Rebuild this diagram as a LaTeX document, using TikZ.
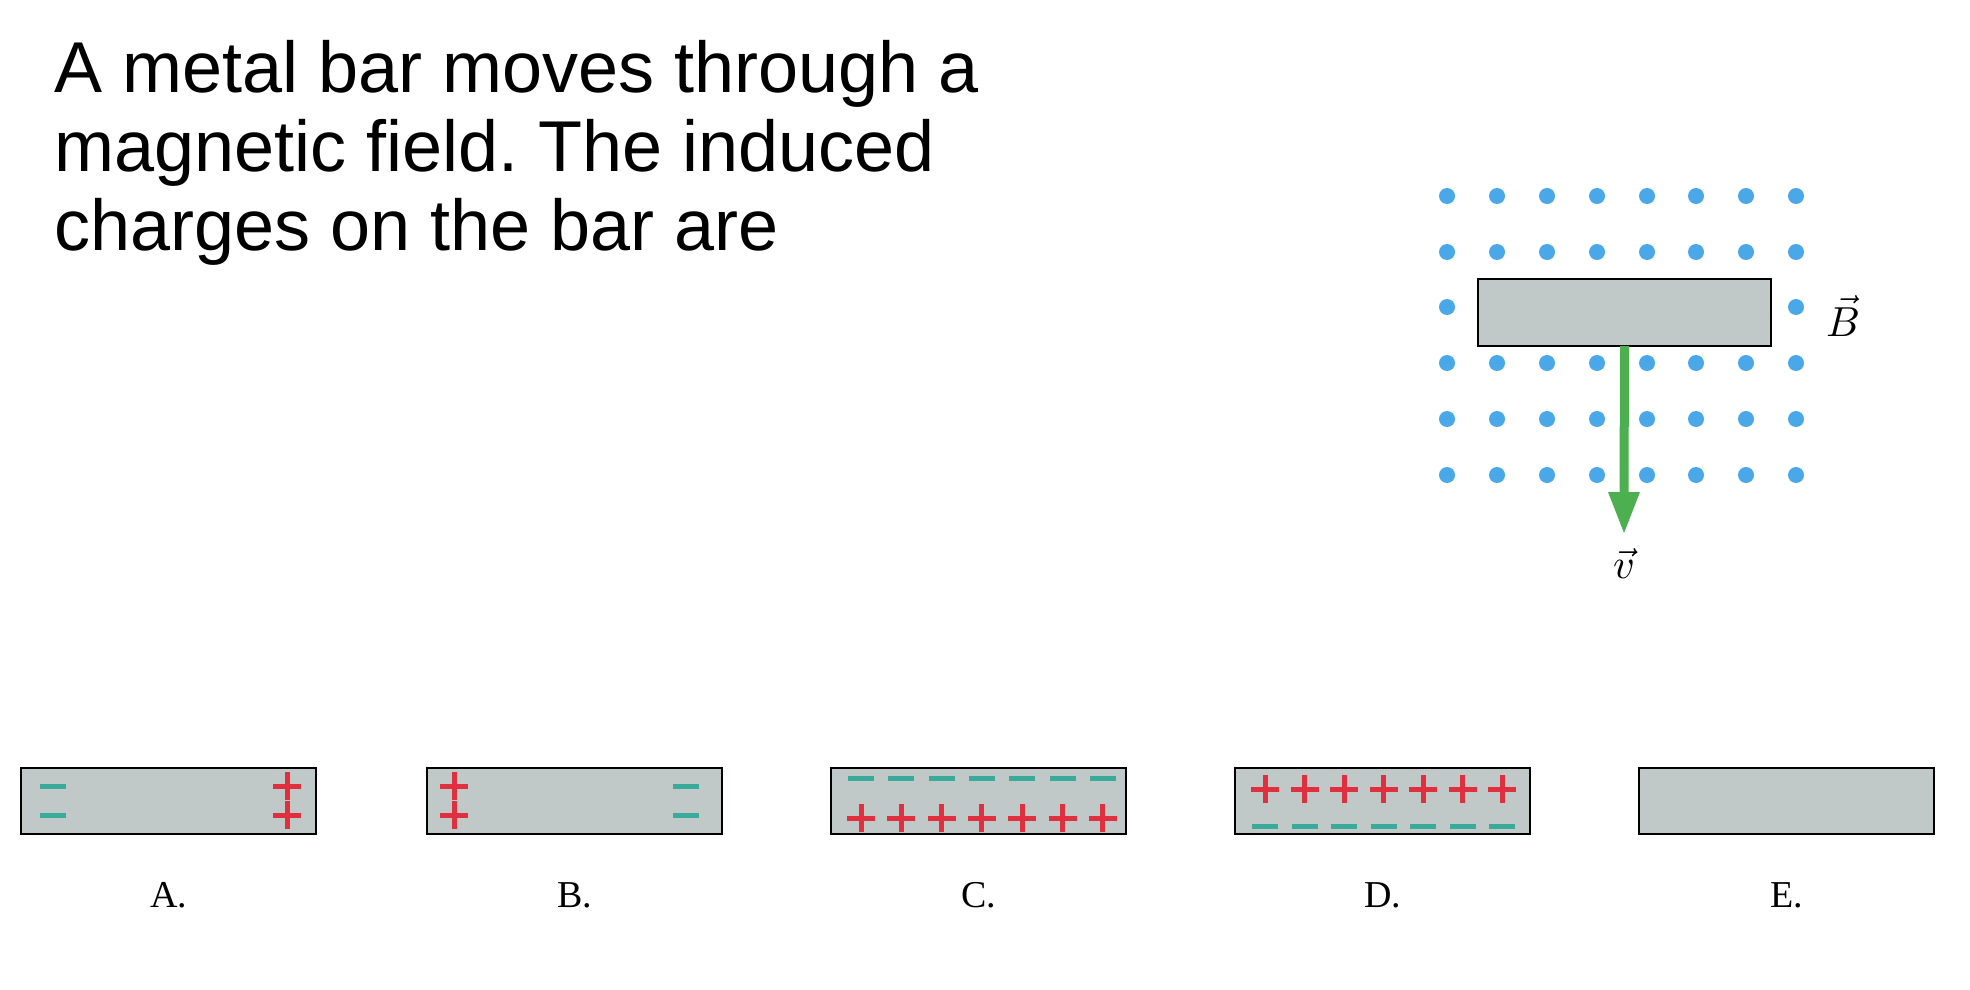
\documentclass[tikz,border=0pt]{standalone}
\usepackage{fontspec}
\setmainfont{Liberation Sans}
\newfontfamily\serifl{Liberation Serif}
\frenchspacing
\definecolor{dotc}{HTML}{4AA8E8}
\definecolor{barc}{HTML}{C0C8C8}
\definecolor{grn}{HTML}{4CAF50}
\definecolor{posc}{HTML}{E0303F}
\definecolor{negc}{HTML}{3AAA9A}
\tikzset{
  bar/.style={draw=black,line width=2.5pt,fill=barc},
  poschg/.style={posc,line width=5pt},
  negchg/.style={negc,line width=5pt},
  lbl/.style={font=\serifl\fontsize{38}{40}\selectfont},
}
\newcommand{\plusq}[2]{\draw[poschg] (#1-14,#2)--(#1+14,#2); \draw[poschg] (#1,#2-14)--(#1,#2+14);}
\newcommand{\minusq}[2]{\draw[negchg] (#1-13,#2)--(#1+13,#2);}
\begin{document}
\begin{tikzpicture}[x=1pt,y=-1pt]
\useasboundingbox (0,0) rectangle (1970,990);
\node[anchor=north west,align=left,font=\fontsize{72}{79}\selectfont,inner sep=0] (title) at (54,40)
 {A metal bar moves through a\\magnetic field. The induced\\charges on the bar are};
% field dots
\foreach \x in {1447,1497,1547,1597,1647,1696,1746,1796}
  \foreach \y in {196,252,307,363,419,475}
    \fill[dotc] (\x,\y) circle (8);
\draw[bar] (1478,279) rectangle (1771,346);
\node[anchor=north,inner sep=0] (bar) at (1624.5,346) {};
\coordinate (tip) at (1624,533);
\draw[grn,line width=9pt] (bar.north) -- (1624,495);
\fill[grn] (1608,492) -- (1640,492) -- (tip) -- cycle;
\node[scale=4.2] (B) at (1843,316) {$\vec B$};
\node[scale=4.2] (v) at (1624,563) {$\vec v$};
% answer bars
\foreach \xa/\l in {21/A,427/B,831/C,1235/D,1639/E}{
  \draw[bar] (\xa,768) rectangle (\xa+295,834);
  \node[lbl] (lab\l) at (\xa+148,895) {\l.};
}
% A
\minusq{53}{786}\minusq{53}{815}\plusq{287}{786}\plusq{287}{815}
% B
\plusq{454}{786}\plusq{454}{815}\minusq{686}{786}\minusq{686}{815}
% C
\foreach \i in {0,...,6}{\pgfmathsetmacro{\xx}{861+\i*40.3}
  \minusq{\xx}{778}\plusq{\xx}{818}}
% D
\foreach \i in {0,...,6}{\pgfmathsetmacro{\xx}{1265+\i*39.5}
  \plusq{\xx}{789}\minusq{\xx}{826}}
\end{tikzpicture}
\end{document}
